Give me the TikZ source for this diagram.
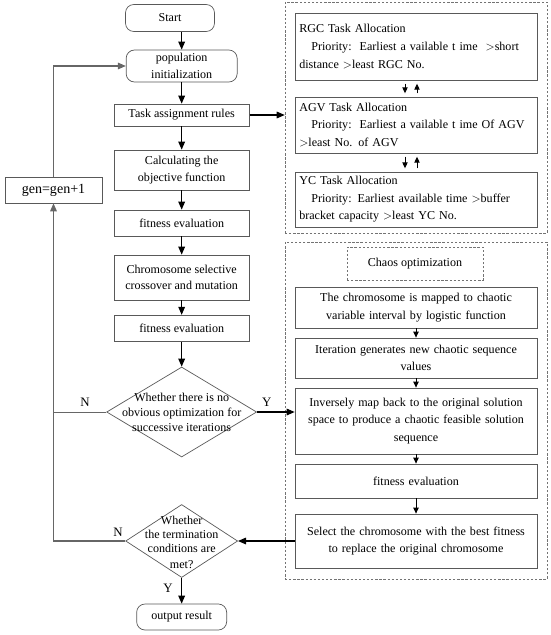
\documentclass[tikz,border=0pt]{standalone}
\usepackage{fontspec}
\setmainfont{Liberation Serif}
\usetikzlibrary{shapes.geometric,arrows.meta}

\begin{document}
\begin{tikzpicture}[
  font=\fontsize{10.3}{14}\selectfont,
  box/.style={draw=black!65,line width=0.6pt,inner sep=0pt,align=center,minimum width=4.05cm},
  term/.style={box,rounded corners=2.5mm},
  rbox/.style={draw=black!65,line width=0.6pt,inner xsep=0.13cm,inner ysep=0pt,text width=7cm,align=left,font=\fontsize{10.3}{15}\selectfont},
  cbox/.style={rbox,align=center},
  dia/.style={draw=black!65,line width=0.6pt,diamond,inner sep=0pt},
  frame/.style={draw=black!55,dash pattern=on 2pt off 1.5pt,line width=0.5pt,inner sep=0pt},
  arr/.style={-{Triangle[length=2.4mm,width=2mm]},line width=0.9pt},
  sarr/.style={-{Triangle[length=1.8mm,width=1.6mm]},line width=0.8pt},
  loop/.style={draw=black!60,line width=0.7pt},
  yn/.style={font=\fontsize{11}{13}\selectfont}
]
\useasboundingbox (0,0) rectangle (16.5,-19.05);
% main column
\node[term,minimum width=2.67cm,minimum height=0.81cm] (start) at (5.1,-0.54) {Start};
\node[term,minimum width=3.33cm,minimum height=0.96cm] (init) at (5.45,-1.98) {population\\initialization};
\node[box,minimum height=0.66cm] (rules) at (5.45,-3.45) {Task assignment rules};
\node[box,minimum height=1.2cm] (obj) at (5.45,-5.1) {Calculating the\\objective function};
\node[box,minimum height=0.78cm] (fit1) at (5.45,-6.69) {fitness evaluation};
\node[box,minimum height=1.35cm] (cross) at (5.45,-8.325) {Chromosome selective\\crossover and mutation};
\node[box,minimum height=0.8cm] (fit2) at (5.45,-9.855) {fitness evaluation};
\node[dia,minimum width=4.5cm,minimum height=2.7cm,
  label={[align=center,font=\fontsize{10.3}{12.8}\selectfont]center:Whether there is no\\obvious optimization for\\successive iterations}] (opt) at (5.45,-12.36) {};
\node[dia,minimum width=3.36cm,minimum height=2.19cm,
  label={[align=center,font=\fontsize{10.3}{12}\selectfont,yshift=-1pt]center:Whether\\the termination\\conditions are\\[2pt]met?}] (stop) at (5.45,-16.23) {};
\node[term,minimum width=2.7cm,minimum height=0.78cm] (out) at (5.45,-18.51) {output result};
\node[box,minimum width=2.91cm,minimum height=0.78cm,font=\fontsize{12}{14}\selectfont] (gen) at (1.605,-5.7) {gen=gen+1};

% task allocation
\node[frame,minimum width=7.86cm,minimum height=6.93cm] (alloc) at (12.48,-3.525) {};
\node[rbox,minimum height=2.01cm] (rgc) at (12.48,-1.395) {RGC Task Allocation\\
  \hspace*{1em}Priority:\ \ Earliest a vailable t ime \ $>$short\\ distance $>$least RGC No.};
\node[rbox,minimum height=1.68cm] (agv) at (12.48,-3.75) {AGV Task Allocation\\
  \hspace*{1em}Priority:\ \ Earliest a vailable t ime Of AGV\\ $>$least No. of AGV};
\node[rbox,minimum height=1.65cm] (yc) at (12.48,-5.985) {YC Task Allocation\\
  \hspace*{1em}Priority: Earliest available time $>$buffer\\ bracket capacity $>$least YC No.};

% chaos optimization
\node[frame,minimum width=7.86cm,minimum height=10.11cm] (chaosbox) at (12.48,-12.315) {};
\node[frame,minimum width=4.08cm,minimum height=0.99cm] (chaos) at (12.45,-7.905) {Chaos optimization};
\node[cbox,minimum height=1.23cm] (map) at (12.48,-9.225) {The chromosome is mapped to chaotic\\variable interval by logistic function};
\node[cbox,minimum height=1.2cm] (iter) at (12.48,-10.74) {Iteration generates new chaotic sequence\\values};
\node[cbox,minimum height=1.98cm] (inv) at (12.48,-12.63) {Inversely map back to the original solution\\space to produce a chaotic feasible solution\\sequence};
\node[cbox,minimum height=1.02cm] (fit3) at (12.48,-14.43) {fitness evaluation};
\node[cbox,minimum height=1.62cm] (sel) at (12.48,-16.23) {Select the chromosome with the best fitness\\to replace the original chromosome};

% connectors
\draw[arr] (start.south -| init.north) -- (init.north);
\foreach \a/\b in {init/rules,rules/obj,obj/fit1,fit1/cross,cross/fit2,fit2/opt,stop/out}
  {\draw[arr] (\a) -- (\b);}
\foreach \a/\b in {map/iter,iter/inv,inv/fit3,fit3/sel}
  {\draw[sarr] (\a) -- (\b);}
\foreach \a/\b in {rgc/agv,agv/yc}
  {\draw[sarr] ([xshift=-0.33cm,yshift=-0.1cm]\a.south) -- ([xshift=-0.33cm,yshift=0.1cm]\b.north);
   \draw[sarr] ([xshift=0.03cm,yshift=0.1cm]\b.north) -- ([xshift=0.03cm,yshift=-0.1cm]\a.south);}
\draw[arr] (rules.east) -- (rules.east -| alloc.west);
\draw[arr] (opt.east) -- (opt.east -| inv.west);
\draw[arr] (sel.west) -- (stop.east);
\draw[loop] (opt.west) -- (opt.west -| gen);
\draw[loop,arr] (stop.west) -- (stop.west -| gen) -- (gen.south);
\draw[loop,arr] (gen.north) |- (init.west);
\node[yn] (nopt) at (2.55,-12.06) {N};
\node[yn] (yopt) at (8.0,-12.06) {Y};
\node[yn] (nstop) at (3.54,-15.96) {N};
\node[yn] (ystop) at (5.04,-17.64) {Y};
\end{tikzpicture}
\end{document}
